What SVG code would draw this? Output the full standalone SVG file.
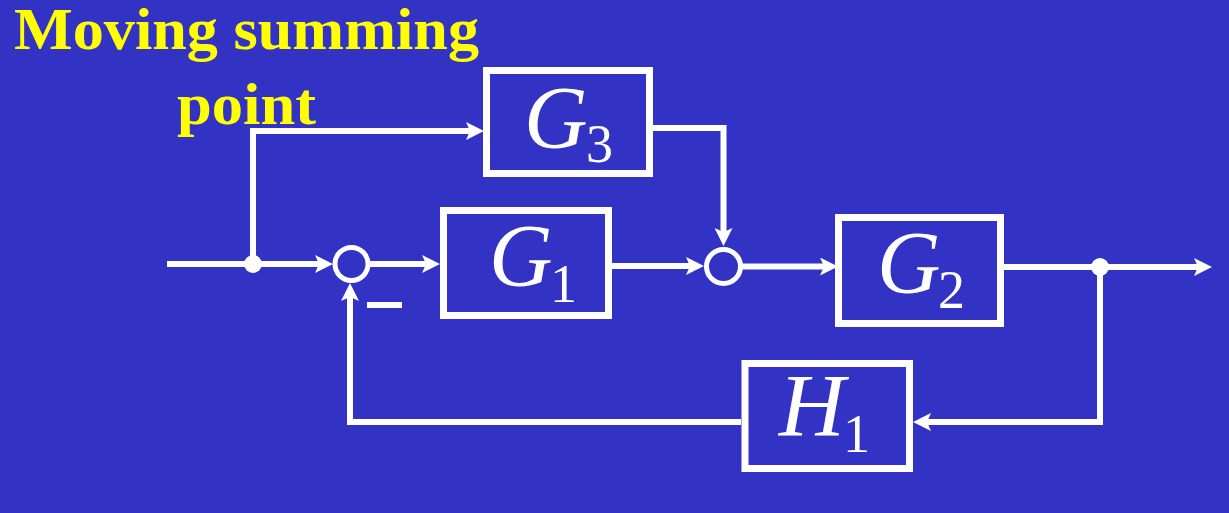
<svg xmlns="http://www.w3.org/2000/svg" width="1229" height="513" viewBox="0 0 1229 513">
  <style>
    .box { fill: none; stroke: #FFFFFF; stroke-width: 7; }
    .wire { fill: none; stroke: #FFFFFF; stroke-width: 6; stroke-linejoin: miter; }
    .sum { fill: none; stroke: #FFFFFF; stroke-width: 5; }
    .dot { fill: #FFFFFF; }
    .title { font-family: "Liberation Serif", "Times New Roman", serif; font-weight: bold; font-size: 60px; fill: #FFFF00; }
    .sym { font-family: "Liberation Serif", "Times New Roman", serif; font-style: italic; font-size: 88px; fill: #FFFFFF; }
    .sub { font-family: "Liberation Serif", "Times New Roman", serif; font-size: 54px; fill: #FFFFFF; }
  </style>
  <defs>
    <marker id="arrow" viewBox="0 0 18 18" markerWidth="18" markerHeight="18" refX="6" refY="9" orient="auto" markerUnits="userSpaceOnUse">
      <path d="M0,0 L18,9 L0,18 L4,9 z" fill="#FFFFFF"/>
    </marker>
  </defs>
  <rect x="0" y="0" width="1229" height="513" fill="#3232C4"/>

  <g id="title">
    <text class="title" x="14" y="49" textLength="465" lengthAdjust="spacingAndGlyphs">Moving summing</text>
    <text class="title" x="177" y="124" textLength="139" lengthAdjust="spacingAndGlyphs">point</text>
  </g>

  <g id="connectors">
    <path class="wire" d="M167,264 H321" marker-end="url(#arrow)"/>
    <path class="wire" d="M253,264 V131 H472" marker-end="url(#arrow)"/>
    <path class="wire" d="M369,264 H428" marker-end="url(#arrow)"/>
    <path class="wire" d="M612,266 H692" marker-end="url(#arrow)"/>
    <path class="wire" d="M653,128 H723.5 V234" marker-end="url(#arrow)"/>
    <path class="wire" d="M741,266.5 H826" marker-end="url(#arrow)"/>
    <path class="wire" d="M1004,267 H1200" marker-end="url(#arrow)"/>
    <path class="wire" d="M1100,267 V422 H925" marker-end="url(#arrow)"/>
    <path class="wire" d="M741,422 H350 V295" marker-end="url(#arrow)"/>
    <circle class="dot" cx="253" cy="264" r="9"/>
    <circle class="dot" cx="1100" cy="267" r="9"/>
  </g>

  <g id="sum1">
    <circle class="sum" cx="351.5" cy="264" r="16.5"/>
    <line x1="367" y1="305" x2="402" y2="305" stroke="#FFFFFF" stroke-width="6"/>
  </g>
  <g id="sum2">
    <circle class="sum" cx="723.5" cy="266.5" r="17"/>
  </g>

  <g id="G3">
    <rect class="box" x="486.5" y="70.5" width="163" height="103"/>
    <text class="sym" x="524" y="147">G</text>
    <text class="sub" x="586" y="162">3</text>
  </g>
  <g id="G1">
    <rect class="box" x="443.5" y="210.5" width="165" height="105"/>
    <text class="sym" x="489" y="285">G</text>
    <text class="sub" x="550" y="302">1</text>
  </g>
  <g id="G2">
    <rect class="box" x="838.5" y="217.5" width="162" height="106"/>
    <text class="sym" x="877" y="292">G</text>
    <text class="sub" x="938" y="308">2</text>
  </g>
  <g id="H1">
    <rect class="box" x="745" y="363.5" width="164.5" height="105"/>
    <text class="sym" x="779" y="435" textLength="66" lengthAdjust="spacingAndGlyphs">H</text>
    <text class="sub" x="843" y="452">1</text>
  </g>
</svg>
